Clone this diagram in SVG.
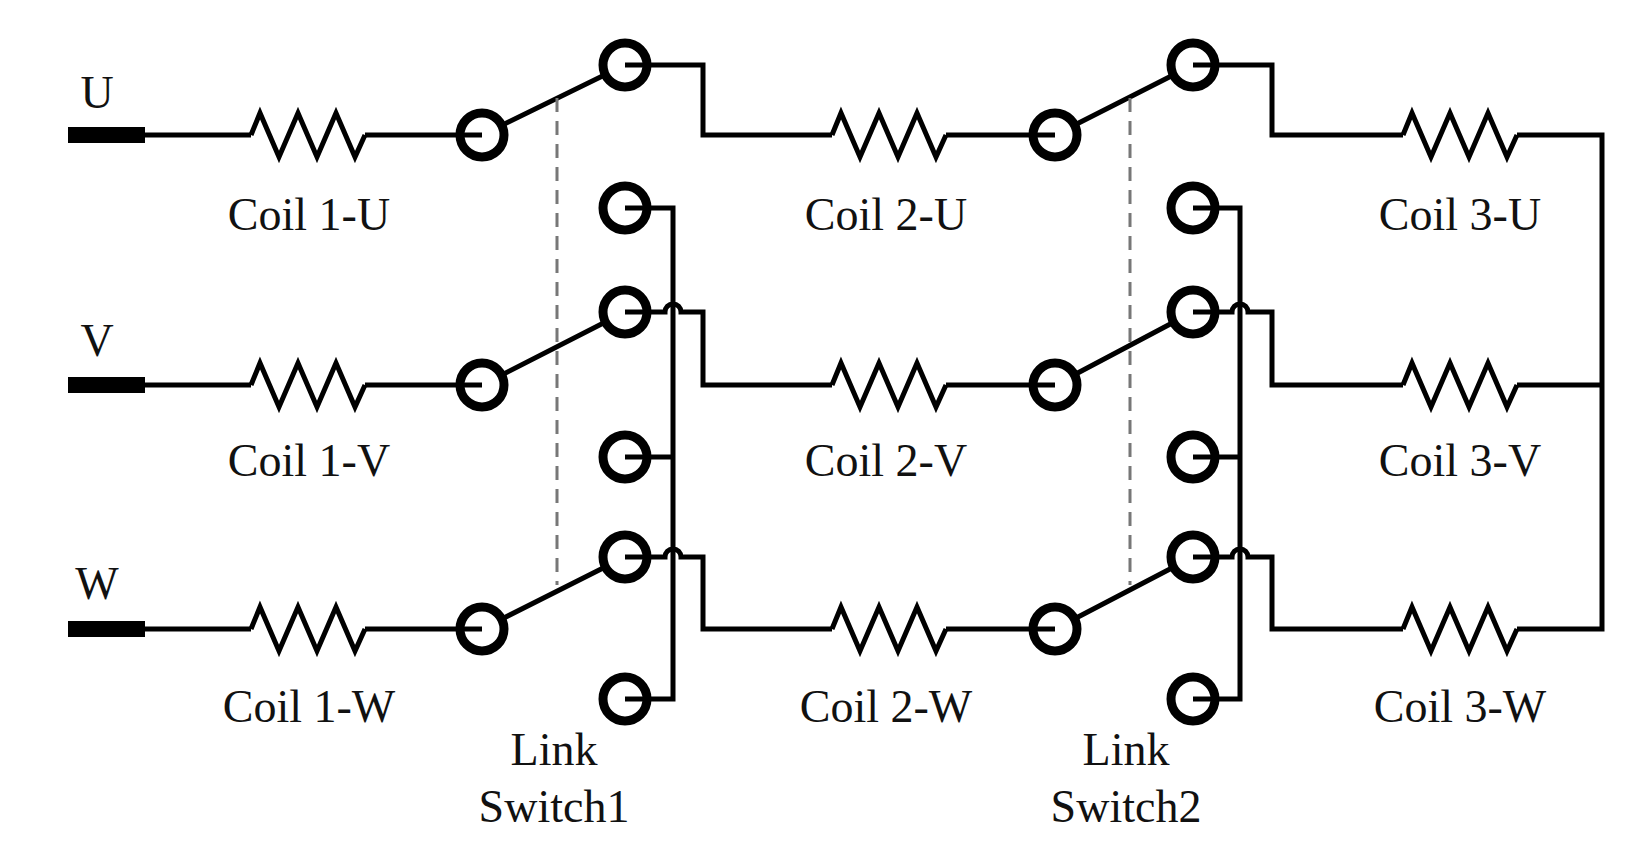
<svg xmlns="http://www.w3.org/2000/svg" width="1640" height="861" viewBox="0 0 1640 861">
<style>
.w{fill:none;stroke:#000;stroke-width:5;stroke-linejoin:miter}
.c{fill:#fff;stroke:#000;stroke-width:9}
.d{fill:none;stroke:#777;stroke-width:3;stroke-dasharray:14,9}
.t{font-family:"Liberation Serif",serif;font-size:46px;fill:#111;text-anchor:middle}
.term{stroke:#000;stroke-width:16}
</style>
<defs>
<path id="r" class="w" d="M0,0 l9,-22 l19,44 l19,-44 l19,44 l19,-44 l19,44 l10,-22"/>
<circle id="k" class="c" r="22"/>
</defs>
<rect width="1640" height="861" fill="#fff"/>
<g id="connectors">
<line class="term" x1="68" y1="135" x2="145" y2="135"/>
<line class="term" x1="68" y1="385" x2="145" y2="385"/>
<line class="term" x1="68" y1="629" x2="145" y2="629"/>
<path class="w" d="M145,135H251M365,135H482 M145,385H251M365,385H482 M145,629H251M365,629H482"/>
<use href="#r" x="251" y="135"/><use href="#r" x="251" y="385"/><use href="#r" x="251" y="629"/>
<path class="w" d="M482,135L625,65 M482,385L625,312 M482,629L625,557"/>
<path class="w" d="M1055,135L1193,65 M1055,385L1193,312 M1055,629L1193,557"/>
<path class="d" d="M557,98V585 M1130,98V585"/>
<path class="w" d="M625,65H703V135H832M946,135H1055"/>
<path class="w" d="M625,312H665a8,8 0 0 1 16,0H703V385H832M946,385H1055"/>
<path class="w" d="M625,557H665a8,8 0 0 1 16,0H703V629H832M946,629H1055"/>
<use href="#r" x="832" y="135"/><use href="#r" x="832" y="385"/><use href="#r" x="832" y="629"/>
<path class="w" d="M625,208H673V699H625 M625,457H673"/>
<path class="w" d="M1193,65H1272V135H1403M1517,135H1602V629H1517M1403,629H1272V557H1248a8,8 0 0 0 -16,0H1193"/>
<path class="w" d="M1193,312H1232a8,8 0 0 1 16,0H1272V385H1403M1517,385H1602"/>
<use href="#r" x="1403" y="135"/><use href="#r" x="1403" y="385"/><use href="#r" x="1403" y="629"/>
<path class="w" d="M1193,208H1240V699H1193 M1193,457H1240"/>
</g>
<g id="switch1">
<use href="#k" x="482" y="135"/><use href="#k" x="482" y="385"/><use href="#k" x="482" y="629"/>
<use href="#k" x="625" y="65"/><use href="#k" x="625" y="208"/><use href="#k" x="625" y="312"/><use href="#k" x="625" y="457"/><use href="#k" x="625" y="557"/><use href="#k" x="625" y="699"/>
</g>
<g id="switch2">
<use href="#k" x="1055" y="135"/><use href="#k" x="1055" y="385"/><use href="#k" x="1055" y="629"/>
<use href="#k" x="1193" y="65"/><use href="#k" x="1193" y="208"/><use href="#k" x="1193" y="312"/><use href="#k" x="1193" y="457"/><use href="#k" x="1193" y="557"/><use href="#k" x="1193" y="699"/>
</g>
<g id="stubs">
<path class="w" d="M460,135H482M460,385H482M460,629H482M1033,135H1055M1033,385H1055M1033,629H1055"/>
<path class="w" d="M625,65H648M625,208H648M625,312H648M625,457H648M625,557H648M625,699H648"/>
<path class="w" d="M1193,65H1216M1193,208H1216M1193,312H1216M1193,457H1216M1193,557H1216M1193,699H1216"/>
</g>
<g id="labels">
<text class="t" x="97" y="108">U</text>
<text class="t" x="97" y="356">V</text>
<text class="t" x="97" y="599">W</text>
<text class="t" x="309" y="230">Coil 1-U</text>
<text class="t" x="309" y="476">Coil 1-V</text>
<text class="t" x="309" y="722">Coil 1-W</text>
<text class="t" x="886" y="230">Coil 2-U</text>
<text class="t" x="886" y="476">Coil 2-V</text>
<text class="t" x="886" y="722">Coil 2-W</text>
<text class="t" x="1460" y="230">Coil 3-U</text>
<text class="t" x="1460" y="476">Coil 3-V</text>
<text class="t" x="1460" y="722">Coil 3-W</text>
<text class="t" x="554" y="765">Link</text>
<text class="t" x="554" y="822">Switch1</text>
<text class="t" x="1126" y="765">Link</text>
<text class="t" x="1126" y="822">Switch2</text>
</g>
</svg>
